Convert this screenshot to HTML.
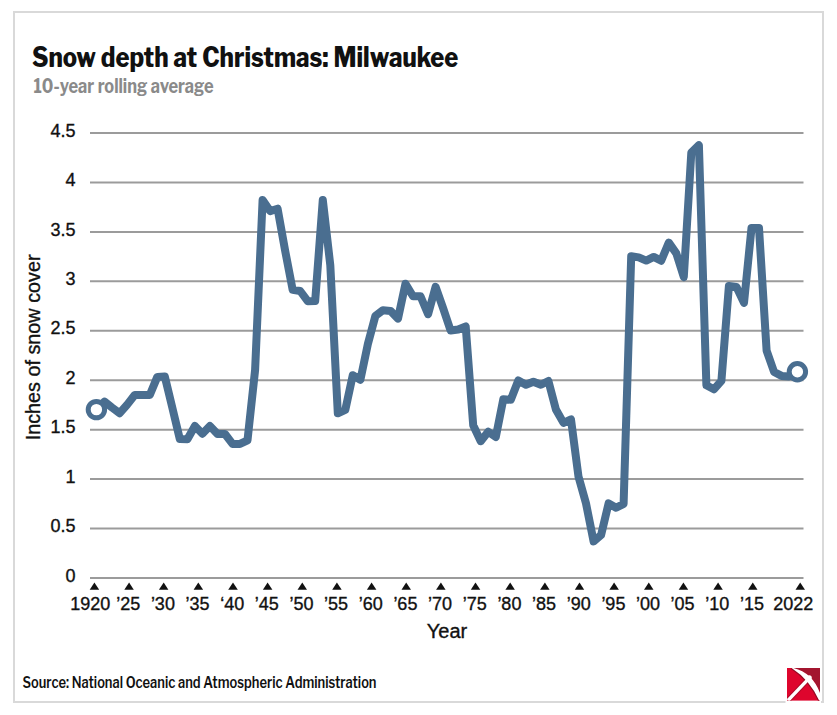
<!DOCTYPE html>
<html><head><meta charset="utf-8"><title>Snow depth at Christmas: Milwaukee</title>
<style>
html,body{margin:0;padding:0;background:#fff;}
body{width:837px;height:715px;overflow:hidden;}
svg{display:block;}
.ax{font-family:"Liberation Sans",Arial,sans-serif;fill:#111;stroke:#111;stroke-width:0.35px;}
.hd{font-family:"Libre Franklin","Liberation Sans",sans-serif;}
</style></head><body>
<svg width="837" height="715" viewBox="0 0 837 715">
<rect x="0" y="0" width="837" height="715" fill="#fff"/>
<rect x="14" y="12" width="809" height="690" fill="none" stroke="#d9d9d9" stroke-width="2"/>
<text class="hd" x="32.0" y="66.7" textLength="426.4" lengthAdjust="spacingAndGlyphs" font-size="27.7" font-weight="800" fill="#111">Snow depth at Christmas: Milwaukee</text>
<text class="hd" x="33.5" y="92.6" textLength="180.0" lengthAdjust="spacingAndGlyphs" font-size="20.1" font-weight="700" fill="#8a8a8a">10-year rolling average</text>
<g stroke="#9b9b9b" stroke-width="2"><line x1="90" x2="803.5" y1="133.00" y2="133.00"/><line x1="90" x2="803.5" y1="182.44" y2="182.44"/><line x1="90" x2="803.5" y1="231.89" y2="231.89"/><line x1="90" x2="803.5" y1="281.33" y2="281.33"/><line x1="90" x2="803.5" y1="330.78" y2="330.78"/><line x1="90" x2="803.5" y1="380.22" y2="380.22"/><line x1="90" x2="803.5" y1="429.66" y2="429.66"/><line x1="90" x2="803.5" y1="479.11" y2="479.11"/><line x1="90" x2="803.5" y1="528.55" y2="528.55"/><line x1="90" x2="803.5" y1="578.00" y2="578.00"/></g>
<g class="ax" font-size="18" text-anchor="end"><text x="75.6" y="136.6">4.5</text><text x="75.6" y="186.0">4</text><text x="75.6" y="235.5">3.5</text><text x="75.6" y="284.9">3</text><text x="75.6" y="334.4">2.5</text><text x="75.6" y="383.8">2</text><text x="75.6" y="433.3">1.5</text><text x="75.6" y="482.7">1</text><text x="75.6" y="532.2">0.5</text><text x="75.6" y="581.6">0</text></g>
<g fill="#111"><path d="M94.4 582.4L99.2 589.7L89.7 589.7Z"/><path d="M129.1 582.4L133.8 589.7L124.3 589.7Z"/><path d="M163.7 582.4L168.4 589.7L158.9 589.7Z"/><path d="M198.3 582.4L203.1 589.7L193.6 589.7Z"/><path d="M233.0 582.4L237.8 589.7L228.2 589.7Z"/><path d="M267.6 582.4L272.4 589.7L262.9 589.7Z"/><path d="M302.3 582.4L307.0 589.7L297.5 589.7Z"/><path d="M336.9 582.4L341.7 589.7L332.2 589.7Z"/><path d="M371.6 582.4L376.4 589.7L366.9 589.7Z"/><path d="M406.2 582.4L411.0 589.7L401.5 589.7Z"/><path d="M440.9 582.4L445.6 589.7L436.1 589.7Z"/><path d="M475.5 582.4L480.3 589.7L470.8 589.7Z"/><path d="M510.2 582.4L514.9 589.7L505.4 589.7Z"/><path d="M544.9 582.4L549.6 589.7L540.1 589.7Z"/><path d="M579.5 582.4L584.2 589.7L574.8 589.7Z"/><path d="M614.1 582.4L618.9 589.7L609.4 589.7Z"/><path d="M648.8 582.4L653.5 589.7L644.0 589.7Z"/><path d="M683.4 582.4L688.2 589.7L678.7 589.7Z"/><path d="M718.1 582.4L722.8 589.7L713.3 589.7Z"/><path d="M752.8 582.4L757.5 589.7L748.0 589.7Z"/><path d="M800.2 582.4L805.0 589.7L795.5 589.7Z"/></g>
<g class="ax" font-size="18" text-anchor="middle"><text x="90.2" y="609.7">1920</text><text x="128.2" y="609.7">’25</text><text x="162.9" y="609.7">’30</text><text x="197.5" y="609.7">’35</text><text x="232.2" y="609.7">‘40</text><text x="266.8" y="609.7">’45</text><text x="301.5" y="609.7">’50</text><text x="336.1" y="609.7">’55</text><text x="370.8" y="609.7">’60</text><text x="405.4" y="609.7">’65</text><text x="440.1" y="609.7">’70</text><text x="474.7" y="609.7">’75</text><text x="509.4" y="609.7">’80</text><text x="544.1" y="609.7">’85</text><text x="578.7" y="609.7">’90</text><text x="613.4" y="609.7">’95</text><text x="648.0" y="609.7">’00</text><text x="682.6" y="609.7">’05</text><text x="717.3" y="609.7">’10</text><text x="752.0" y="609.7">’15</text><text x="793.3" y="609.7">2022</text></g>
<text class="ax" x="447" y="637.7" font-size="20" text-anchor="middle">Year</text>
<text class="ax" transform="translate(40 347.4) rotate(-90)" font-size="19.8" text-anchor="middle">Inches of snow cover</text>
<polyline points="97.1,409.6 104.6,401.6 112.1,407.6 119.7,413.2 127.2,404.6 134.7,395.0 142.2,395.0 149.8,395.0 157.3,376.9 164.8,376.5 172.3,407.6 179.8,439.0 187.4,439.2 194.9,426.0 202.4,433.7 209.9,426.0 217.5,434.0 225.0,434.0 232.5,443.9 240.0,443.9 247.5,440.3 255.1,370.0 262.6,199.9 270.1,211.1 277.6,208.7 285.1,250.5 292.7,289.9 300.2,291.0 307.7,301.2 315.2,300.9 322.8,199.9 330.3,265.3 337.8,413.3 345.3,409.9 352.8,375.2 360.4,379.7 367.9,343.9 375.4,315.9 382.9,310.2 390.5,310.9 398.0,318.6 405.5,283.7 413.0,296.3 420.5,296.3 428.1,314.2 435.6,286.8 443.1,308.1 450.6,330.5 458.2,329.5 465.7,326.5 473.2,425.3 480.7,441.2 488.2,431.8 495.8,437.0 503.3,399.2 510.8,399.7 518.3,380.5 525.9,384.8 533.4,381.7 540.9,384.8 548.4,381.0 555.9,409.5 563.5,422.9 571.0,419.4 578.5,476.7 586.0,503.4 593.6,541.4 601.1,535.0 608.6,503.4 616.1,507.8 623.6,503.9 631.2,256.3 638.7,257.4 646.2,260.6 653.7,256.9 661.2,260.7 668.8,242.6 676.3,253.4 683.8,277.1 691.3,152.7 698.9,145.2 706.4,385.3 713.9,389.3 721.4,380.9 728.9,286.0 736.5,287.0 744.0,302.8 751.5,228.0 759.0,228.0 766.6,350.6 774.1,372.0 781.6,375.9 789.1,376.4 796.6,371.7" fill="none" stroke="#4a6e90" stroke-width="8" stroke-linejoin="round" stroke-linecap="round"/>
<circle cx="96.4" cy="409.6" r="8.2" fill="#fff" stroke="#4a6e90" stroke-width="5"/>
<circle cx="797.4" cy="371.7" r="8.2" fill="#fff" stroke="#4a6e90" stroke-width="5"/>
<text class="hd" x="22.5" y="687.5" textLength="354.0" lengthAdjust="spacingAndGlyphs" font-size="15.5" font-weight="600" fill="#111">Source: National Oceanic and Atmospheric Administration</text>
<rect x="785.5" y="666" width="35.5" height="37.5" fill="#fff"/>
<defs><clipPath id="lc"><rect x="0" y="0" width="33" height="32.8"/></clipPath></defs>
<g transform="translate(787 668)" clip-path="url(#lc)">
<rect x="0" y="0" width="33" height="32.8" fill="#de062d"/>
<path d="M6.5 0H33V25Q25.3 4.6 6.5 0Z" fill="#a3152f"/>
<path d="M4.6 0Q22.9 11.9 32.3 32.8" fill="none" stroke="#8e0c24" stroke-width="2.4" opacity="0.9"/>
<path d="M1 32.4L22.2 10.2" stroke="#8e0c24" stroke-width="5.4" opacity="0.6"/>
<path d="M4.6 0H6.5Q25.3 4.6 33 25V32.8H32.3Q22.9 11.9 4.6 0Z" fill="#fff"/>
<path d="M1 32.4L22.2 10.2" stroke="#fff" stroke-width="3.4"/>
<circle cx="22.3" cy="9.7" r="2.5" fill="#fff"/>
</g>
</svg>
</body></html>
